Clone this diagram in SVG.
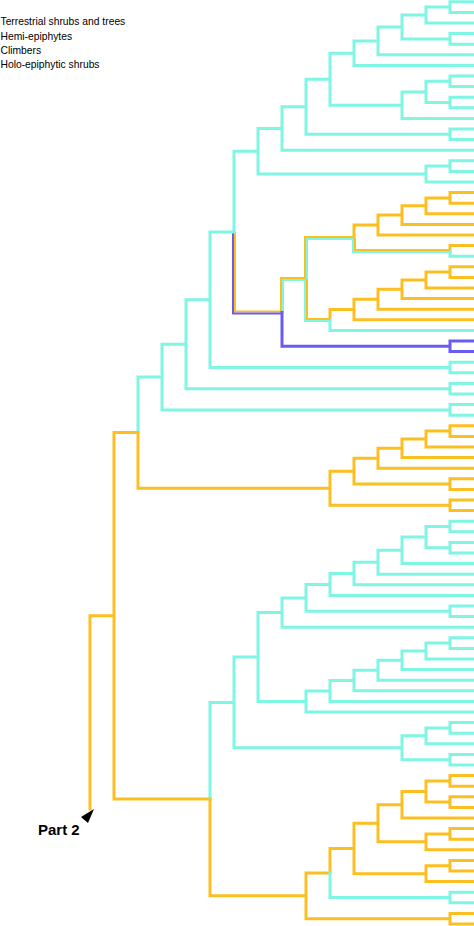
<svg xmlns="http://www.w3.org/2000/svg" width="474" height="926" viewBox="0 0 474 926">
<style>
path{fill:none;stroke-width:3;stroke-linecap:square;stroke-linejoin:miter}
.c{stroke:#7ff5e3}.y{stroke:#fcbf22}.b{stroke:#6a5cf2}
path.d{stroke-width:2;stroke-linecap:butt}
text{font-family:"Liberation Sans",Arial,sans-serif;fill:#000}
.lg{font-size:10.3px}
.pt{font-size:15px;font-weight:bold}
</style>
<rect width="474" height="926" fill="#fff"/>
<g id="legend">
<text class="lg" x="0.5" y="25">Terrestrial shrubs and trees</text>
<text class="lg" x="0.5" y="39.5">Hemi-epiphytes</text>
<text class="lg" x="0.5" y="54">Climbers</text>
<text class="lg" x="0.5" y="68">Holo-epiphytic shrubs</text>
</g>
<g id="connectors">
<path class="c" d="M476 1.8H450V12.4H476M450 7.1H426V23H476M476 33.6H450V44.2H476M426 15.05H402V38.9H450M402 26.98H378V54.8H476M378 40.89H354V65.4H476M476 76H450V86.6H476M476 97.2H450V107.8H476M450 81.3H426V102.5H450M426 91.9H402V118.4H476M354 53.14H330V105.15H402M476 129H450V139.6H476M330 79.15H306V134.3H450M306 106.7H282V150.2H476M476 160.8H450V171.4H476M450 166.1H426V182H476M282 128.45H258V174.05H426M258 151.25H234V231.9"/>
<path class="y" d="M476 192.6H450V203.2H476M450 197.9H426V213.8H476M426 205.85H402V224.4H476M402 215.1H378V235H476M378 225.05H354V237.98M476 245.6H450V250.9"/>
<path class="c" d="M450 250.9V256.2H476"/>
<path class="y" d="M476 266.8H450V277.4H476M450 272.1H426V288H476M426 280.05H402V298.6H476M402 289.3H378V309.2H476M378 299.25H354V319.8H476M354 309.5H330V319.95"/>
<path class="c" d="M330 319.95V330.4H476"/>
<path class="d y" d="M355 237.98V249.9H450M354 236.98H305V278.96M307 278.96V318.95H330M306 277.96H281V312.6M235 231.9V311.6H282"/>
<path class="d c" d="M353 237.98V251.9H450M354 238.98H307V278.96M305 278.96V320.95H330M306 279.96H283V312.6"/>
<path class="d b" d="M233 231.9V313.6H282"/>
<path class="b" d="M282 312.6V346.3H450M476 341H450V351.6H476"/>
<path class="c" d="M234 231.9H210V367.5H450M476 362.2H450V372.8H476M210 299.7H186V388.7H450M476 383.4H450V394H476M186 344.2H162V409.9H450M476 404.6H450V415.2H476M162 377.05H138V432.6"/>
<path class="y" d="M138 432.6V488.2H330M476 425.8H450V436.4H476M450 431.1H426V447H476M426 439.05H402V457.6H476M402 448.3H378V468.2H476M476 478.8H450V489.4H476M378 458.25H354V484.1H450M476 500H450V510.6H476M354 471.2H330V505.3H450M138 432.6H114V799.12H210M114 615.86H90V809"/>
<path class="c" d="M476 521.2H450V531.8H476M476 542.4H450V553H476M450 526.5H426V547.7H450M426 537.1H402V563.6H476M402 550.35H378V574.2H476M378 562.28H354V584.8H476M354 573.54H330V595.4H476M476 606H450V616.6H476M330 584.47H306V611.3H450M306 597.9H282V627.2H476M476 637.8H450V648.4H476M450 643.1H426V659H476M426 651.05H402V669.6H476M402 660.33H378V680.2H476M378 670.26H354V690.8H476M354 680.53H330V701.4H476M330 690.97H306V712H476M282 612.55H258V701.48H306M476 722.6H450V733.2H476M450 727.9H426V743.8H476M476 754.4H450V765H476M426 735.85H402V759.7H450M258 657H234V747.78H402M234 702.39H210V799.12"/>
<path class="y" d="M210 799.12V895.85H306M476 775.6H450V786.2H476M476 796.8H450V807.4H476M450 780.9H426V802.1H450M426 791.5H402V818H476M476 828.6H450V839.2H476M450 833.9H426V849.8H476M402 804.75H378V841.85H426M476 860.4H450V871H476M450 865.7H426V881.6H476M378 823.3H354V873.65H426M354 848.48H330V872.99M330 872.99H306V918.7H450M476 913.4H450V924H476"/>
<path class="c" d="M330 872.99V897.5H450M476 892.2H450V902.8H476"/>
</g>
<g id="part2">
<polygon points="94,809 81,817 88,823" fill="#000"/>
<text class="pt" x="38" y="835">Part 2</text>
</g>
</svg>
